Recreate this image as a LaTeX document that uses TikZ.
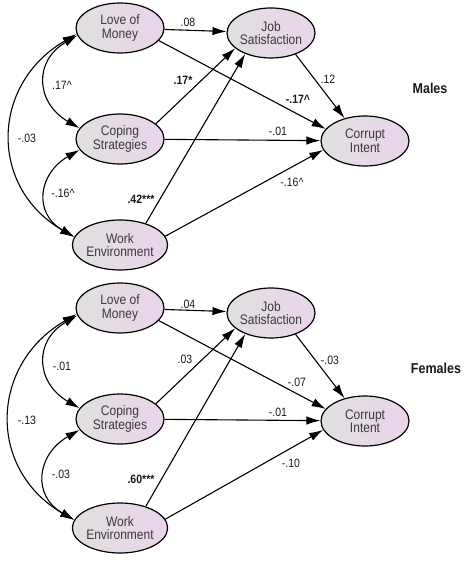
\documentclass[tikz,border=0pt]{standalone}
\usepackage{fontspec}
\usepackage{graphicx}
\setmainfont{Liberation Sans}
\usetikzlibrary{shapes.geometric,arrows.meta}
\definecolor{grayl}{HTML}{E0E0E0}
\definecolor{pinkr}{HTML}{EAD4EA}
\definecolor{txt}{HTML}{3A3A3A}
\newcommand\vs[1]{\scalebox{1}[1.15]{#1}}
\begin{document}
\begin{tikzpicture}[x=1pt,y=1pt,
 var/.style={ellipse,draw=black,line width=1.2pt,minimum width=88pt,minimum height=50pt,inner sep=0pt,left color=grayl,right color=pinkr,align=center,font=\fontsize{12}{13.5}\selectfont,text=txt},
 arr/.style={line width=1.1pt,-{Latex[length=14pt,width=8.5pt]}},
 cov/.style={line width=1.1pt,{Latex[length=14pt,width=8.5pt]}-{Latex[length=14pt,width=8.5pt]}},
 lab/.style={font=\fontsize{10.5}{12}\selectfont,text=black!90,inner sep=0pt},
 blab/.style={font=\fontsize{10.5}{12}\selectfont\bfseries,text=black!90,inner sep=0pt},
 ttl/.style={font=\fontsize{12.5}{14}\selectfont\bfseries,text=black!90,inner sep=0pt}]
\useasboundingbox (0,0) rectangle (474,-569);

% ---------- Males ----------
\node[var] (mL) at (120,-28) {\vs{Love of}\\\vs{Money}};
\node[var] (mJ) at (271,-33) {\vs{Job}\\\vs{Satisfaction}};
\node[var] (mC) at (120,-139) {\vs{Coping}\\\vs{Strategies}};
\node[var] (mW) at (120,-245) {\vs{Work}\\\vs{Environment}};
\node[var] (mI) at (365,-141) {\vs{Corrupt}\\\vs{Intent}};
\node[ttl] (mT) at (430,-88) {\vs{Males}};

\draw[arr] (mL) -- (mJ);
\draw[arr] (mL.-18) -- (mI.163);
\draw[arr] (mC.23) -- (mJ.203);
\draw[arr] (mC) -- (mI);
\draw[arr] (mW.40) -- (mJ.219);
\draw[arr] (mW.11) -- (mI.192);
\draw[arr] (mJ.-41) -- (mI.132);
\draw[cov] (mL.190) to[out=210,in=150,looseness=1.4] (mC.165);
\draw[cov] (mC.195) to[out=210,in=150,looseness=1.4] (mW.170);
\draw[cov] (mL.188) to[out=210,in=150,looseness=1.25] (mW.170);

\node[lab]  (m1) at (188,-22) {\vs{.08}};
\node[blab] (m2) at (298,-99) {\vs{-.17\textasciicircum}};
\node[blab] (m3) at (183,-80) {\vs{.17*}};
\node[lab]  (m4) at (278,-131) {\vs{-.01}};
\node[lab]  (m5) at (328,-79) {\vs{.12}};
\node[lab]  (m6) at (62,-85) {\vs{.17\textasciicircum}};
\node[lab]  (m7) at (27,-138) {\vs{-.03}};
\node[lab]  (m8) at (63,-193) {\vs{-.16\textasciicircum}};
\node[blab] (m9) at (141,-199) {\vs{.42***}};
\node[lab]  (m10) at (292,-182) {\vs{-.16\textasciicircum}};

% ---------- Females ----------
\node[var] (fL) at (120,-308) {\vs{Love of}\\\vs{Money}};
\node[var] (fJ) at (271,-313) {\vs{Job}\\\vs{Satisfaction}};
\node[var] (fC) at (120,-419) {\vs{Coping}\\\vs{Strategies}};
\node[var] (fW) at (120,-528) {\vs{Work}\\\vs{Environment}};
\node[var] (fI) at (365,-421) {\vs{Corrupt}\\\vs{Intent}};
\node[ttl] (fT) at (436,-368) {\vs{Females}};

\draw[arr] (fL) -- (fJ);
\draw[arr] (fL.-18) -- (fI.163);
\draw[arr] (fC.23) -- (fJ.203);
\draw[arr] (fC) -- (fI);
\draw[arr] (fW.40) -- (fJ.219);
\draw[arr] (fW.11) -- (fI.192);
\draw[arr] (fJ.-41) -- (fI.132);
\draw[cov] (fL.190) to[out=210,in=150,looseness=1.4] (fC.165);
\draw[cov] (fC.195) to[out=210,in=150,looseness=1.4] (fW.170);
\draw[cov] (fL.188) to[out=210,in=150,looseness=1.25] (fW.170);

\node[lab]  (f1) at (188,-304) {\vs{.04}};
\node[lab]  (f2) at (297,-382) {\vs{-.07}};
\node[lab]  (f3) at (185,-359) {\vs{.03}};
\node[lab]  (f4) at (278,-412) {\vs{-.01}};
\node[lab]  (f5) at (330,-360) {\vs{-.03}};
\node[lab]  (f6) at (62,-366) {\vs{-.01}};
\node[lab]  (f7) at (27,-420) {\vs{-.13}};
\node[lab]  (f8) at (61,-474) {\vs{-.03}};
\node[blab] (f9) at (141,-479) {\vs{.60***}};
\node[lab]  (f10) at (291,-463) {\vs{-.10}};
\end{tikzpicture}
\end{document}
